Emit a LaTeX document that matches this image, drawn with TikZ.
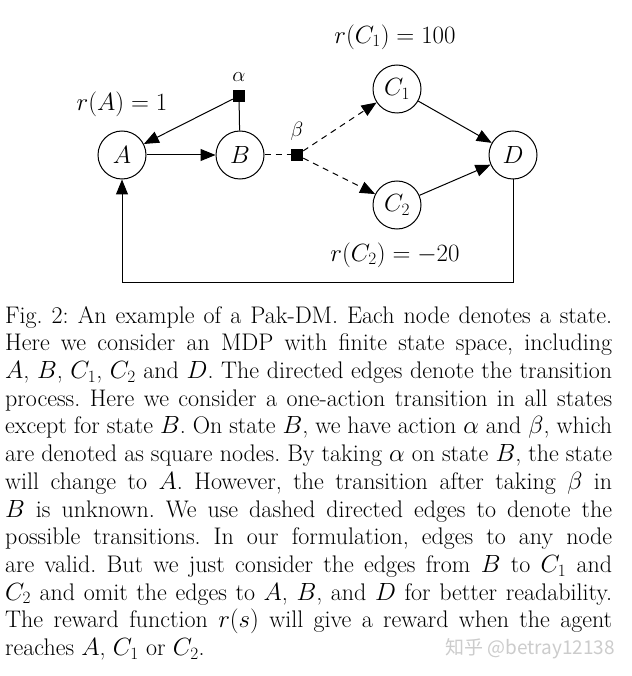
\documentclass[tikz,border=0pt]{standalone}
\usepackage{fontspec}
\usetikzlibrary{arrows.meta}
\newfontfamily\cjkwm{Noto Sans CJK SC}
\newcommand\capline[1]{\hbox to 607pt{#1}}
\tikzset{
  state/.style={circle,draw,line width=1pt,minimum size=48pt,inner sep=0pt,font=\fontsize{24}{28}\selectfont},
  act/.style={rectangle,fill=black,minimum size=12pt,inner sep=0pt},
  lbl/.style={inner sep=0pt,font=\fontsize{24}{28}\selectfont},
  small/.style={inner sep=0pt,font=\fontsize{20}{24}\selectfont},
  edge/.style={line width=1pt},
  arr/.style={line width=1pt,-{Triangle[length=15pt,width=12pt]}},
  darr/.style={line width=1pt,dash pattern=on 6pt off 5pt,-{Triangle[length=15pt,width=12pt]}},
  dline/.style={line width=1pt,dash pattern=on 6pt off 5pt},
}
\begin{document}
\begin{tikzpicture}[x=1pt,y=-1pt]
\useasboundingbox (0,0) rectangle (631,676);
\fill[white] (0,0) rectangle (631,676);
% nodes
\node[state] (A) at (122,155) {$A$};
\node[state] (B) at (240,155) {$B$};
\node[act] (al) at (239,96) {};
\node[act] (be) at (297,155) {};
\node[state] (C1) at (397,89) {$C_1$};
\node[state] (C2) at (397,205) {$C_2$};
\node[state] (D) at (513,155) {$D$};
% labels
\node[lbl] (rA) at (122,104) {$r(A)=1$};
\node[lbl] (rC1) at (395,37) {$r(C_1)=100$};
\node[lbl] (rC2) at (395,255) {$r(C_2)=-20$};
\node[small] (la) at (239,77) {$\alpha$};
\node[small] (lb) at (297,131) {$\beta$};
% edges
\draw[arr] (A) -- (B);
\draw[edge] (B) -- (al);
\draw[arr] (al) -- (A);
\draw[dline] (B) -- (be);
\draw[darr] (be) -- (C1);
\draw[darr] (be) -- (C2);
\draw[arr] (C1) -- (D);
\draw[arr] (C2) -- (D);
\coordinate (loopR) at (513,282);
\draw[arr] (D) -- (loopR) -| (A);
% caption
\node[inner sep=0pt,anchor=north west] (cap) at (5,306) {\vbox{\fontsize{24}{27.7}\selectfont\frenchspacing
\capline{Fig. 2: An example of a Pak-DM. Each node denotes a state.}
\capline{Here we consider an MDP with finite state space, including}
\capline{$A$, $B$, $C_1$, $C_2$ and $D$. The directed edges denote the transition}
\capline{process. Here we consider a one-action transition in all states}
\capline{except for state $B$. On state $B$, we have action $\alpha$ and $\beta$, which}
\capline{are denoted as square nodes. By taking $\alpha$ on state $B$, the state}
\capline{will change to $A$. However, the transition after taking $\beta$ in}
\capline{$B$ is unknown. We use dashed directed edges to denote the}
\capline{possible transitions. In our formulation, edges to any node}
\capline{are valid. But we just consider the edges from $B$ to $C_1$ and}
\capline{$C_2$ and omit the edges to $A$, $B$, and $D$ for better readability.}
\capline{The reward function $r(s)$ will give a reward when the agent}
\hbox{reaches $A$, $C_1$ or $C_2$.}}};
\node[inner sep=0pt,anchor=east,text=black!20,font=\cjkwm\fontsize{19}{22}\selectfont] (wm) at (615,649) {知乎 @betray12138};
\end{tikzpicture}
\end{document}
